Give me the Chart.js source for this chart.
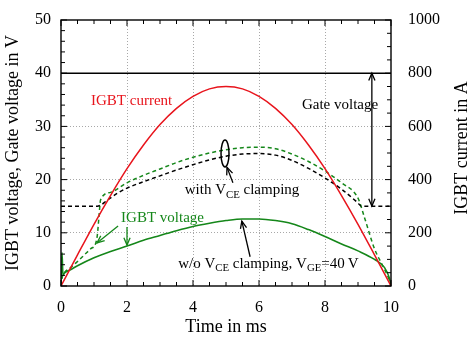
<!DOCTYPE html>
<html lang="en">
<head>
  <meta charset="UTF-8" />
  <title>IGBT voltage and current</title>
  <script src="https://cdn.jsdelivr.net/npm/chart.js"></script>
  <style>
    body { margin: 0; background: #fff; }
    canvas { display: block; }
  </style>
</head>
<body>
  <canvas id="chart" width="474" height="338"></canvas>

  <script>
    // values
    const currentTime = [0,0.5,1,1.5,2,2.5,3,3.5,4,4.5,5,5.5,6,6.5,7,7.5,8,8.5,9,9.5,10];
    const igbtCurrent = [0,117,232,340,441,530,607,668,713,741,750,741,713,668,607,530,441,340,232,117,0];

    const gateTime = [0,10];
    const gateVolt = [40,40];

    const gateClampTime = [0,1.1,1.2,1.4,1.7,2,2.5,3,3.5,4,4.5,5,5.5,6,6.5,7,7.5,8,8.5,9,9.1,10];
    const gateClampVolt = [15,15,15.2,16.1,17.4,18.4,19.6,20.7,21.8,22.8,23.7,24.4,24.8,24.9,24.6,23.6,22.1,20.3,18.2,15.6,15,15];

    const igbtClampTime = [0,0.05,0.1,0.3,0.5,0.7,0.9,1.05,1.1,1.15,1.2,1.5,2,2.5,3,3.5,4,4.5,5,5.5,6,6.5,7,7.5,8,8.5,9,9.2,9.5,9.8,10];
    const igbtClampVolt = [0,2.0,2.5,3.5,4.6,5.8,7.0,8.0,9.5,13,16.2,17.6,19.4,20.8,22.0,23.2,24.2,25.0,25.6,26.0,26.1,25.8,24.8,23.4,21.6,19.4,16.5,12.8,7.0,3.2,0.5];

    const igbtFreeTime = [0,0.03,0.06,0.1,0.3,0.5,1,1.5,2,2.5,3,3.5,4,4.5,5,5.5,6,6.5,7,7.5,8,8.5,9,9.5,9.8,9.95,10];
    const igbtFreeVolt = [0,6.3,2.0,2.4,3.1,3.8,5.3,6.5,7.5,8.6,9.5,10.4,11.2,11.8,12.3,12.6,12.6,12.3,11.7,10.6,9.3,7.9,6.6,5.0,3.5,1.5,0];

    const voltTicks = [0,10,20,30,40,50];
    const currentTicks = [0,200,400,600,800,1000];
    const timeTicks = [0,2,4,6,8,10];

    const RED = '#e8141c';
    const GREEN = '#15871a';
    const FONT = '"Liberation Serif", "DejaVu Serif", serif';

    const pts = (xs, ys) => xs.map((x, i) => ({ x: x, y: ys[i] }));

    function arrow(ctx, x1, y1, x2, y2, color, both) {
      ctx.save();
      ctx.strokeStyle = color;
      ctx.lineWidth = 1.3;
      ctx.beginPath();
      ctx.moveTo(x1, y1);
      ctx.lineTo(x2, y2);
      ctx.stroke();
      const head = (ax, ay, bx, by) => {
        const a = Math.atan2(by - ay, bx - ax);
        ctx.beginPath();
        ctx.moveTo(bx - 8 * Math.cos(a - 0.4), by - 8 * Math.sin(a - 0.4));
        ctx.lineTo(bx, by);
        ctx.lineTo(bx - 8 * Math.cos(a + 0.4), by - 8 * Math.sin(a + 0.4));
        ctx.stroke();
      };
      head(x1, y1, x2, y2);
      if (both) head(x2, y2, x1, y1);
      ctx.restore();
    }

    function richText(ctx, x, y, parts, size, color) {
      let cx = x;
      ctx.fillStyle = color;
      ctx.textAlign = 'left';
      ctx.textBaseline = 'middle';
      parts.forEach(p => {
        const s = p.sub ? size * 0.72 : size;
        ctx.font = s + 'px ' + FONT;
        ctx.fillText(p.t, cx, p.sub ? y + size * 0.3 : y);
        cx += ctx.measureText(p.t).width;
      });
    }

    const decor = {
      id: 'decor',
      afterDatasetsDraw(chart) {
        const ctx = chart.ctx;
        const a = chart.chartArea;
        const xs = chart.scales.x, ys = chart.scales.y, ys2 = chart.scales.y2;
        const px = v => xs.getPixelForValue(v);
        const py = v => ys.getPixelForValue(v);

        ctx.save();
        // inward ticks
        ctx.strokeStyle = '#000';
        ctx.lineWidth = 1;
        ctx.beginPath();
        for (let i = 0; i <= 20; i++) {
          const x = px(i * 0.5);
          const len = i % 4 === 0 ? 6 : 4;
          ctx.moveTo(x, a.bottom); ctx.lineTo(x, a.bottom - len);
          ctx.moveTo(x, a.top); ctx.lineTo(x, a.top + len);
        }
        for (let i = 0; i <= 25; i++) {
          const y = py(i * 2);
          const len = i % 5 === 0 ? 6 : 4;
          ctx.moveTo(a.left, y); ctx.lineTo(a.left + len, y);
        }
        for (let i = 0; i <= 20; i++) {
          const y = ys2.getPixelForValue(i * 50);
          const len = i % 4 === 0 ? 6 : 4;
          ctx.moveTo(a.right, y); ctx.lineTo(a.right - len, y);
        }
        ctx.stroke();

        // frame
        ctx.lineWidth = 1.4;
        ctx.strokeRect(a.left, a.top, a.right - a.left, a.bottom - a.top);

        // axis titles
        ctx.fillStyle = '#000';
        ctx.font = '18px ' + FONT;
        ctx.textAlign = 'center';
        ctx.textBaseline = 'middle';
        ctx.fillText('Time in ms', (a.left + a.right) / 2, 327);
        ctx.save();
        ctx.translate(13, 153);
        ctx.rotate(-Math.PI / 2);
        ctx.fillText('IGBT voltage, Gate voltage in V', 0, 0);
        ctx.restore();
        ctx.save();
        ctx.translate(462, 148);
        ctx.rotate(-Math.PI / 2);
        ctx.fillText('IGBT current in A', 0, 0);
        ctx.restore();

        // annotations
        richText(ctx, px(0.91), py(34.8), [{ t: 'IGBT current' }], 15, RED);
        richText(ctx, px(7.3), py(34.0), [{ t: 'Gate voltage' }], 15, '#000');
        arrow(ctx, px(9.42), py(40), px(9.42), py(15), '#000', true);

        ctx.strokeStyle = '#000';
        ctx.lineWidth = 1.5;
        ctx.beginPath();
        ctx.ellipse(px(4.97), py(24.9), 4, 13.5, 0, 0, Math.PI * 2);
        ctx.stroke();
        arrow(ctx, px(5.21), py(19.4), px(5.03), py(22.3), '#000', false);
        richText(ctx, px(3.75), py(18.0), [{ t: 'with V' }, { t: 'CE', sub: true }, { t: ' clamping' }], 15, '#000');

        richText(ctx, px(1.82), py(12.8), [{ t: 'IGBT voltage' }], 15, GREEN);
        arrow(ctx, px(1.73), py(11.3), px(1.09), py(8.1), GREEN, false);
        arrow(ctx, px(2.0), py(11.1), px(2.0), py(7.7), GREEN, false);

        arrow(ctx, px(5.73), py(5.5), px(5.48), py(12.2), '#000', false);
        richText(ctx, px(3.55), py(4.2), [{ t: 'w/o V' }, { t: 'CE', sub: true }, { t: ' clamping, V' }, { t: 'GE', sub: true }, { t: '=40\u2009V' }], 15, '#000');
        ctx.restore();
      }
    };

    const tickFont = { family: FONT, size: 16 };
    const dottedGrid = {
      color: ctx => (ctx.tick && (ctx.index === 0 || ctx.index === ctx.chart.scales[ctx.scale.id].ticks.length - 1)) ? 'rgba(0,0,0,0)' : '#a8a8a8',
      lineWidth: 1,
      drawTicks: false
    };
    const plain = v => String(v);
    const fitY = w => s => { s.width = w; s.paddingTop = 0; s.paddingBottom = 0; };

    new Chart(document.getElementById('chart').getContext('2d'), {
      type: 'line',
      data: {
        datasets: [
          { data: pts(gateTime, gateVolt), borderColor: '#000', borderWidth: 1.6, yAxisID: 'y' },
          { data: pts(currentTime, igbtCurrent), borderColor: RED, borderWidth: 1.5, yAxisID: 'y2' },
          { data: pts(gateClampTime, gateClampVolt), borderColor: '#000', borderWidth: 1.5, borderDash: [4, 3], yAxisID: 'y' },
          { data: pts(igbtClampTime, igbtClampVolt), borderColor: GREEN, borderWidth: 1.5, borderDash: [4, 3], yAxisID: 'y' },
          { data: pts(igbtFreeTime, igbtFreeVolt), borderColor: GREEN, borderWidth: 1.6, yAxisID: 'y' }
        ]
      },
      options: {
        responsive: false,
        animation: false,
        layout: { padding: { top: 20, left: 0, right: 0, bottom: 0 } },
        elements: { point: { radius: 0 }, line: { cubicInterpolationMode: 'monotone' } },
        plugins: { legend: { display: false }, tooltip: { enabled: false } },
        scales: {
          x: {
            type: 'linear', min: 0, max: 10,
            afterBuildTicks: s => { s.ticks = timeTicks.map(v => ({ value: v })); },
            afterFit: s => { s.height = 52; s.paddingLeft = 0; s.paddingRight = 0; },
            ticks: { font: tickFont, color: '#000', padding: 12, maxRotation: 0, callback: plain },
            grid: dottedGrid,
            border: { display: false, dash: [1, 2] }
          },
          y: {
            min: 0, max: 50,
            afterBuildTicks: s => { s.ticks = voltTicks.map(v => ({ value: v })); },
            afterFit: fitY(61),
            ticks: { font: tickFont, color: '#000', padding: 10, callback: plain },
            grid: dottedGrid,
            border: { display: false, dash: [1, 2] }
          },
          y2: {
            position: 'right', min: 0, max: 1000,
            afterBuildTicks: s => { s.ticks = currentTicks.map(v => ({ value: v })); },
            afterFit: fitY(83),
            ticks: { font: tickFont, color: '#000', padding: 17, callback: plain },
            grid: { display: false, drawTicks: false },
            border: { display: false }
          }
        }
      },
      plugins: [decor]
    });
  </script>
</body>
</html>
